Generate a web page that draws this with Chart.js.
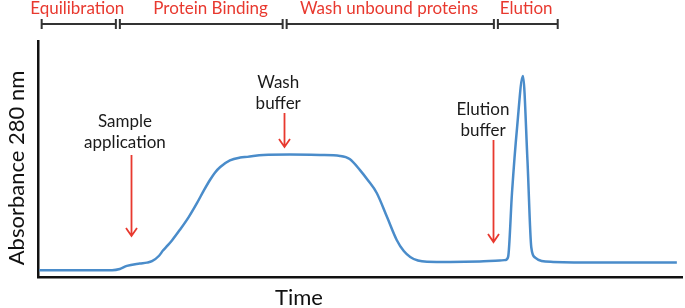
<!DOCTYPE html>
<html>
<head>
<meta charset="utf-8">
<script src="https://cdn.jsdelivr.net/npm/chart.js@4.4.1/dist/chart.umd.min.js"></script>
<style>
html,body{margin:0;padding:0;background:#fff;}
#wrap{width:685px;height:308px;position:relative;}
</style>
</head>
<body>
<div id="wrap"><canvas id="c" width="685" height="308"></canvas></div>
<script>
// Time (arbitrary units, 0-100) and absorbance (arbitrary units, 0-100)
const timeVals = [0.2, 11.5, 12.7, 13.8, 15.8, 16.9, 17.7, 18.8, 19.4, 20.1, 20.8, 22.0, 23.4, 24.7, 25.8, 26.7, 27.5, 28.3, 29.8, 31.4, 32.5, 35.0, 39.1, 43.8, 46.9, 48.4, 50.0, 51.2, 52.6, 54.2, 55.7, 56.8, 57.8, 59.0, 60.4, 64.0, 68.6, 71.7, 72.6, 73.0, 73.6, 74.4, 75.3, 76.0, 76.6, 77.2, 78.2, 80.0, 87.3, 99.2];
const absVals  = [2.9, 2.9, 3.4, 4.7, 5.7, 6.1, 6.7, 9.0, 11.2, 13.3, 15.5, 19.9, 25.4, 31.4, 36.9, 41.1, 44.3, 46.6, 49.4, 50.6, 50.9, 51.7, 51.9, 51.7, 51.3, 50.0, 45.3, 41.1, 35.6, 25.4, 15.7, 11.0, 8.5, 7.0, 6.5, 6.4, 6.6, 7.0, 7.2, 8.5, 35.6, 63.6, 85.2, 49.6, 12.5, 8.2, 6.8, 6.4, 6.1, 6.1];

const phaseNames = ["Equilibration", "Protein Binding", "Wash unbound proteins", "Elution"];
const phaseBounds = [0.57, 12.4, 38.3, 71.1, 80.7];
const phaseLabelX = [6.1, 26.8, 54.5, 75.8];

const noteLines = [["Sample", "application"], ["Wash", "buffer"], ["Elution", "buffer"]];
const noteX = [13.5, 37.3, 69.1];
const noteY = [65.7, 82.2, 70.8];
const arrowX = [14.5, 38.2, 70.7];
const arrowTop = [51.7, 69.5, 58.1];
const arrowTip = [17.4, 55.1, 14.8];

const xTitle = "Time";
const yTitle = "Absorbance 280 nm";

const RED = "#e8392f";
const FONT = "Lato, 'Open Sans', sans-serif";

const decor = {
  id: "decor",
  afterDraw(chart) {
    const ctx = chart.ctx, xs = chart.scales.x, ys = chart.scales.y, ca = chart.chartArea;
    ctx.save();
    // phase brackets
    const by = ca.top - 17;
    ctx.strokeStyle = "#333"; ctx.lineWidth = 2;
    for (let i = 0; i < phaseNames.length; i++) {
      const a = xs.getPixelForValue(phaseBounds[i]) + (i === 0 ? 0 : 2);
      const b = xs.getPixelForValue(phaseBounds[i + 1]) - (i === phaseNames.length - 1 ? 0 : 2);
      ctx.beginPath();
      ctx.moveTo(a, by); ctx.lineTo(b, by);
      ctx.moveTo(a, by - 5); ctx.lineTo(a, by + 5);
      ctx.moveTo(b, by - 5); ctx.lineTo(b, by + 5);
      ctx.stroke();
    }
    ctx.fillStyle = RED; ctx.font = "17px " + FONT;
    ctx.textAlign = "center"; ctx.textBaseline = "middle";
    for (let i = 0; i < phaseNames.length; i++) {
      ctx.fillText(phaseNames[i], xs.getPixelForValue(phaseLabelX[i]), ca.top - 32);
    }
    // annotations
    ctx.fillStyle = "#1a1a1a"; ctx.font = "17px " + FONT;
    for (let i = 0; i < noteLines.length; i++) {
      const x = xs.getPixelForValue(noteX[i]), y = ys.getPixelForValue(noteY[i]);
      noteLines[i].forEach((t, k) => ctx.fillText(t, x, y + k * 21));
    }
    ctx.strokeStyle = RED; ctx.lineWidth = 1.8;
    for (let i = 0; i < arrowX.length; i++) {
      const x = Math.round(xs.getPixelForValue(arrowX[i])) + 0.5;
      const y0 = ys.getPixelForValue(arrowTop[i]), y1 = ys.getPixelForValue(arrowTip[i]);
      ctx.beginPath();
      ctx.moveTo(x, y0); ctx.lineTo(x, y1);
      ctx.moveTo(x - 5.5, y1 - 8); ctx.lineTo(x, y1); ctx.lineTo(x + 5.5, y1 - 8);
      ctx.stroke();
    }
    // axis titles
    ctx.fillStyle = "#111"; ctx.font = "22px " + FONT;
    ctx.fillText(xTitle, ca.left + 261, ca.bottom + 21);
    ctx.translate(17, ca.top + 127);
    ctx.rotate(-Math.PI / 2);
    ctx.fillText(yTitle, 0, 0);
    ctx.restore();
  }
};

new Chart(document.getElementById("c"), {
  type: "line",
  data: {
    datasets: [{
      data: timeVals.map((t, i) => ({ x: t, y: absVals[i] })),
      borderColor: "#4a8cca",
      borderWidth: 2.5,
      pointRadius: 0,
      fill: false,
      cubicInterpolationMode: "monotone"
    }]
  },
  options: {
    responsive: false,
    animation: false,
    events: [],
    layout: { padding: { top: 41, right: 3, left: 0, bottom: 0 } },
    plugins: { legend: { display: false }, tooltip: { enabled: false } },
    scales: {
      x: {
        type: "linear", min: 0, max: 100,
        grid: { display: false, drawTicks: false },
        border: { color: "#111", width: 2.5 },
        ticks: { display: false },
        afterFit(s) { s.height = 31; }
      },
      y: {
        min: 0, max: 100,
        grid: { display: false, drawTicks: false },
        border: { color: "#111", width: 2.5 },
        ticks: { display: false },
        afterFit(s) { s.width = 38; }
      }
    }
  },
  plugins: [decor]
});
</script>
</body>
</html>
